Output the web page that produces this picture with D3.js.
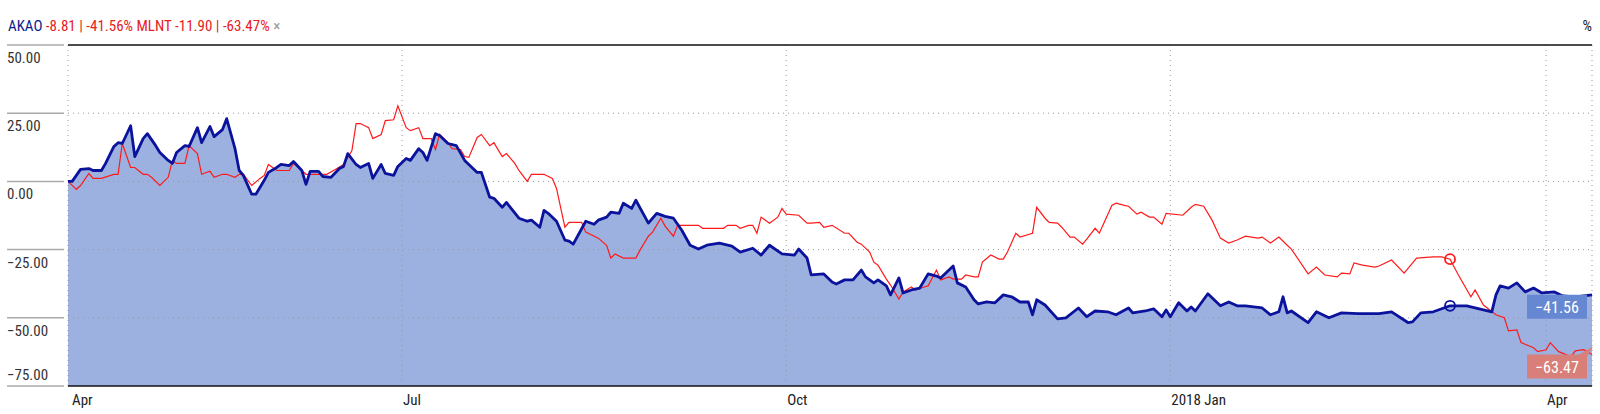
<!DOCTYPE html>
<html>
<head>
<meta charset="utf-8">
<script src="https://cdn.jsdelivr.net/npm/d3@7"></script>
<style>
  body { margin: 0; background: #fff; }
  svg text { font-family: "Liberation Sans Narrow", "Roboto", sans-serif; font-stretch: condensed; }
</style>
</head>
<body>
<svg id="chart" width="1600" height="414"></svg>
<script>
// one-year chart, days counted from the first trading day
const startDate = new Date(2017, 3, 12);

const akaoDays = [0,1,3,5,6,8,9,11,12,13,15,16,18,19,21,22,24,25,26,28,29,31,32,34,35,37,38,40,41,42,44,45,47,48,50,51,53,54,56,57,58,60,61,63,65,66,67,69,70,72,73,75,76,78,79,81,82,84,85,86,88,89,91,93,95,98,99,101,102,104,105,108,110,111,113,114,115,117,119,120,121,124,126,127,129,130,132,133,135,136,139,141,143,145,147,149,151,153,156,159,161,164,166,168,171,174,175,177,178,181,183,184,186,188,190,191,193,194,196,197,199,200,202,204,206,208,209,212,213,215,217,218,220,222,224,226,228,230,231,232,234,237,239,242,244,246,249,251,254,255,258,260,262,263,264,266,268,269,270,273,276,278,280,282,286,288,290,291,292,293,297,299,302,305,309,314,317,321,322,324,327,331,335,338,341,342,343,345,347,349,351,353,356,358,361,365];
const akaoValues = [0,0,4.4,4.7,4.0,4.0,6.6,12.8,14.2,13.9,20.4,9.1,15.7,17.5,13.1,10.6,7.7,6.6,10.6,13.1,12.8,19.7,14.2,20.1,16.4,19.0,23.0,12.0,4.0,2.2,-4.7,-4.7,0.4,3.3,5.1,6.2,5.8,7.3,4.0,-1.1,3.7,3.7,1.8,1.5,4.7,5.5,10.2,6.2,5.1,6.6,1.1,6.2,2.9,2.2,5.5,8.4,7.7,12.0,10.6,7.7,17.5,16.8,13.9,13.1,7.7,3.3,3.3,-5.8,-6.2,-9.5,-7.7,-13.5,-14.6,-14.2,-16.8,-10.6,-11.7,-14.6,-21.5,-21.9,-23.0,-14.6,-15.7,-14.2,-13.1,-11.3,-11.7,-8.0,-9.9,-6.9,-15.3,-11.7,-12.8,-13.5,-17.9,-23.4,-24.8,-23.4,-22.6,-23.7,-25.9,-24.5,-27.0,-23.4,-26.6,-27.0,-24.8,-28.1,-34.3,-33.9,-36.9,-37.6,-36.1,-36.1,-32.5,-35.0,-37.2,-36.1,-38.3,-41.6,-35.4,-40.9,-39.8,-39.1,-33.9,-34.7,-35.4,-31.0,-37.2,-38.7,-43.4,-44.9,-44.2,-44.5,-41.6,-42.3,-44.2,-44.2,-48.9,-43.4,-45.3,-50.4,-50.0,-46.4,-49.6,-47.5,-47.8,-48.9,-46.4,-48.2,-47.5,-46.7,-49.6,-47.1,-49.6,-44.5,-47.5,-46.0,-47.5,-41.2,-45.6,-44.2,-45.6,-45.6,-46.4,-48.9,-47.8,-42.3,-48.2,-47.5,-51.8,-47.8,-50.0,-48.2,-48.5,-48.5,-47.8,-51.8,-51.5,-48.2,-47.8,-45.6,-45.6,-46.7,-47.8,-41.6,-38.3,-39.1,-37.2,-40.5,-39.1,-40.9,-40.5,-42.0,-42.3,-41.56];

const mlntDays = [0,2,3,5,6,8,11,12,13,15,16,18,19,20,22,24,25,26,28,29,31,32,34,35,37,38,40,41,42,44,46,47,48,50,53,54,56,57,62,64,66,68,69,70,72,73,75,76,78,79,81,82,84,85,87,88,89,91,92,94,95,96,98,99,101,102,104,105,107,108,110,111,114,116,117,119,120,123,124,127,129,130,131,133,136,137,139,140,142,143,145,146,151,152,157,158,160,161,163,164,165,166,168,170,171,172,175,177,178,180,181,183,186,187,189,190,192,193,194,196,197,199,200,202,203,205,206,208,209,211,212,214,215,217,218,219,221,223,224,225,227,228,231,232,234,235,237,238,240,241,243,244,246,247,250,251,253,254,256,257,259,260,262,263,267,269,270,272,274,276,278,280,282,285,286,288,290,292,293,297,299,301,304,305,307,308,310,313,314,317,320,323,327,329,331,333,336,337,339,342,344,345,347,348,351,352,354,355,357,360,361,363,365];
const mlntValues = [0,-2.9,-1.5,2.9,1.1,1.1,2.6,2.6,13.9,5.1,5.1,2.6,2.6,1.5,-1.5,1.5,7.7,6.6,6.6,13.1,10.2,2.6,3.7,1.5,2.6,2.6,1.5,2.6,2.6,-1.5,1.1,2.2,6.2,4.0,4.0,6.6,4.0,2.6,2.6,4.4,6.2,11.3,21.2,21.2,19.7,15.7,17.2,22.3,22.6,27.7,19.7,18.6,19.7,15.7,15.7,11.7,17.2,14.2,12.0,11.7,9.1,8.8,16.1,17.2,13.1,14.2,9.1,10.2,6.6,4.0,0,2.6,2.6,1.1,-2.6,-16.8,-15.0,-15.0,-18.6,-20.8,-23.4,-28.1,-26.6,-28.1,-28.1,-25.2,-20.1,-18.6,-13.5,-16.4,-20.1,-16.1,-16.1,-17.2,-17.2,-16.1,-16.1,-17.2,-16.1,-16.1,-19.0,-13.1,-15.3,-13.1,-9.9,-12.0,-12.4,-15.3,-15.3,-15.0,-16.8,-16.1,-19.0,-19.0,-22.3,-23.0,-25.9,-29.6,-30.7,-35.8,-38.0,-43.1,-40.5,-38.7,-39.8,-38.7,-38.3,-32.5,-36.1,-35.0,-35.8,-35.8,-34.3,-35.0,-35.0,-29.6,-27.0,-28.5,-28.5,-25.9,-19.0,-20.4,-19.0,-9.5,-13.5,-15.0,-15.3,-16.8,-20.4,-20.4,-23.0,-21.2,-17.2,-19.0,-8.8,-8.0,-8.8,-9.1,-12.0,-11.3,-13.1,-13.1,-15.7,-11.7,-12.4,-9.5,-8.4,-9.1,-14.2,-20.8,-22.6,-21.5,-20.1,-20.8,-20.4,-22.6,-20.4,-23.4,-24.8,-33.9,-31.4,-34.3,-35.0,-33.6,-33.9,-29.9,-30.7,-31.4,-31.0,-28.8,-33.6,-28.1,-27.7,-27.7,-28.5,-34.3,-42.3,-39.8,-45.3,-48.9,-50.0,-54.8,-54.4,-59.1,-61.0,-62.4,-61.7,-59.1,-62.4,-64.2,-62.1,-61.7,-63.47];

const markerDay = 331;
const yTicks = [50, 25, 0, -25, -50, -75];
const xTicks = [
  { date: new Date(2017, 3, 12), label: "Apr" },
  { date: new Date(2017, 6, 1), label: "Jul" },
  { date: new Date(2017, 9, 1), label: "Oct" },
  { date: new Date(2018, 0, 1), label: "2018 Jan" },
  { date: new Date(2018, 3, 1), label: "Apr" }
];

const svg = d3.select("#chart");
const plotLeft = 68, plotRight = 1592, plotTop = 45, plotBottom = 386;

const toDate = d => d3.timeDay.offset(startDate, d);
const akao = akaoDays.map((d, i) => ({ date: toDate(d), v: akaoValues[i] }));
const mlnt = mlntDays.map((d, i) => ({ date: toDate(d), v: mlntValues[i] }));

const x = d3.scaleTime().domain([startDate, toDate(365)]).range([plotLeft, plotRight]);
const y = d3.scaleLinear().domain([-75, 50]).range([plotBottom, plotTop]);

// header
const head = svg.append("text").attr("x", 8).attr("y", 31).attr("font-size", 15);
head.append("tspan").attr("fill", "#0d1b8c").text("AKAO ");
head.append("tspan").attr("fill", "#e8201c").text("-8.81 | -41.56%  ");
head.append("tspan").attr("fill", "#e8201c").text("MLNT ");
head.append("tspan").attr("fill", "#e8201c").text("-11.90 | -63.47% ");
head.append("tspan").attr("fill", "#999").text(" ×");
svg.append("text").attr("x", plotRight).attr("y", 31).attr("text-anchor", "end")
  .attr("font-size", 15).attr("fill", "#222").text("%");

// area + grid
svg.append("path").datum(akao)
  .attr("fill", "#9db1e1")
  .attr("d", d3.area().x(d => x(d.date)).y0(plotBottom).y1(d => y(d.v)));

const grid = svg.append("g").attr("stroke", "#999").attr("stroke-dasharray", "1,4");
grid.selectAll(".hg").data(yTicks.filter(t => t > -75 && t < 50)).join("line")
  .attr("x1", plotLeft).attr("x2", plotRight).attr("y1", d => y(d)).attr("y2", d => y(d));
grid.selectAll(".vg").data(xTicks).join("line")
  .attr("x1", d => x(d.date)).attr("x2", d => x(d.date)).attr("y1", plotTop).attr("y2", plotBottom);
grid.append("line").attr("x1", plotRight).attr("x2", plotRight).attr("y1", plotTop).attr("y2", plotBottom);

// y axis ticks and labels
svg.append("g").selectAll("line").data(yTicks).join("line")
  .attr("x1", 7).attr("x2", 64).attr("y1", d => y(d)).attr("y2", d => y(d))
  .attr("stroke", "#aaa").attr("stroke-width", 1.5);
svg.append("g").selectAll("text").data(yTicks).join("text")
  .attr("x", 7).attr("y", d => d === -75 ? y(d) - 6 : y(d) + 18)
  .attr("font-size", 15).attr("fill", "#333")
  .text(d => d3.format(".2f")(d));

// x labels
svg.append("g").selectAll("text").data(xTicks).join("text")
  .attr("x", (d, i) => x(d.date) + (i === 0 ? 4 : 1)).attr("y", 405)
  .attr("font-size", 15).attr("fill", "#222").text(d => d.label);

// frame
svg.append("line").attr("x1", plotLeft).attr("x2", plotRight).attr("y1", plotTop).attr("y2", plotTop)
  .attr("stroke", "#111").attr("stroke-width", 1.5);
svg.append("line").attr("x1", plotLeft).attr("x2", plotRight).attr("y1", plotBottom).attr("y2", plotBottom)
  .attr("stroke", "#111").attr("stroke-width", 1.5);

// lines
const line = d3.line().x(d => x(d.date)).y(d => y(d.v));
svg.append("path").datum(mlnt).attr("fill", "none").attr("stroke", "#ff1a1a")
  .attr("stroke-width", 1.2).attr("d", line);
svg.append("path").datum(akao).attr("fill", "none").attr("stroke", "#0b129c")
  .attr("stroke-width", 2.8).attr("stroke-linejoin", "round").attr("d", line);

// hover markers
const mIdxA = akaoDays.indexOf(markerDay), mIdxM = mlntDays.indexOf(markerDay);
svg.append("circle").attr("cx", x(akao[mIdxA].date)).attr("cy", y(akao[mIdxA].v)).attr("r", 5)
  .attr("fill", "none").attr("stroke", "#0b129c").attr("stroke-width", 1.8);
svg.append("circle").attr("cx", x(mlnt[mIdxM].date)).attr("cy", y(mlnt[mIdxM].v)).attr("r", 5)
  .attr("fill", "none").attr("stroke", "#ff1a1a").attr("stroke-width", 1.8);

// end value tags
const tags = [
  { v: akao[akao.length - 1].v, fill: "#6687d2", flag: false },
  { v: mlnt[mlnt.length - 1].v, fill: "#d97f79", flag: true }
];
tags.forEach(t => {
  const ty = y(t.v), tx = 1527, w = 60, h = 24;
  const p = t.flag
    ? `M${tx},${ty} L${tx + w - 8},${ty} L${tx + w + 6},${ty - 8} L${tx + w},${ty + 2} L${tx + w},${ty + h} L${tx},${ty + h} Z`
    : `M${tx},${ty} L${tx + w},${ty} L${tx + w},${ty + h} L${tx},${ty + h} Z`;
  svg.append("path").attr("d", p).attr("fill", t.fill);
  svg.append("text").attr("x", tx + w / 2).attr("y", ty + 18).attr("text-anchor", "middle")
    .attr("font-size", 16).attr("fill", "#fff").text(d3.format(".2f")(t.v));
});
</script>
</body>
</html>
